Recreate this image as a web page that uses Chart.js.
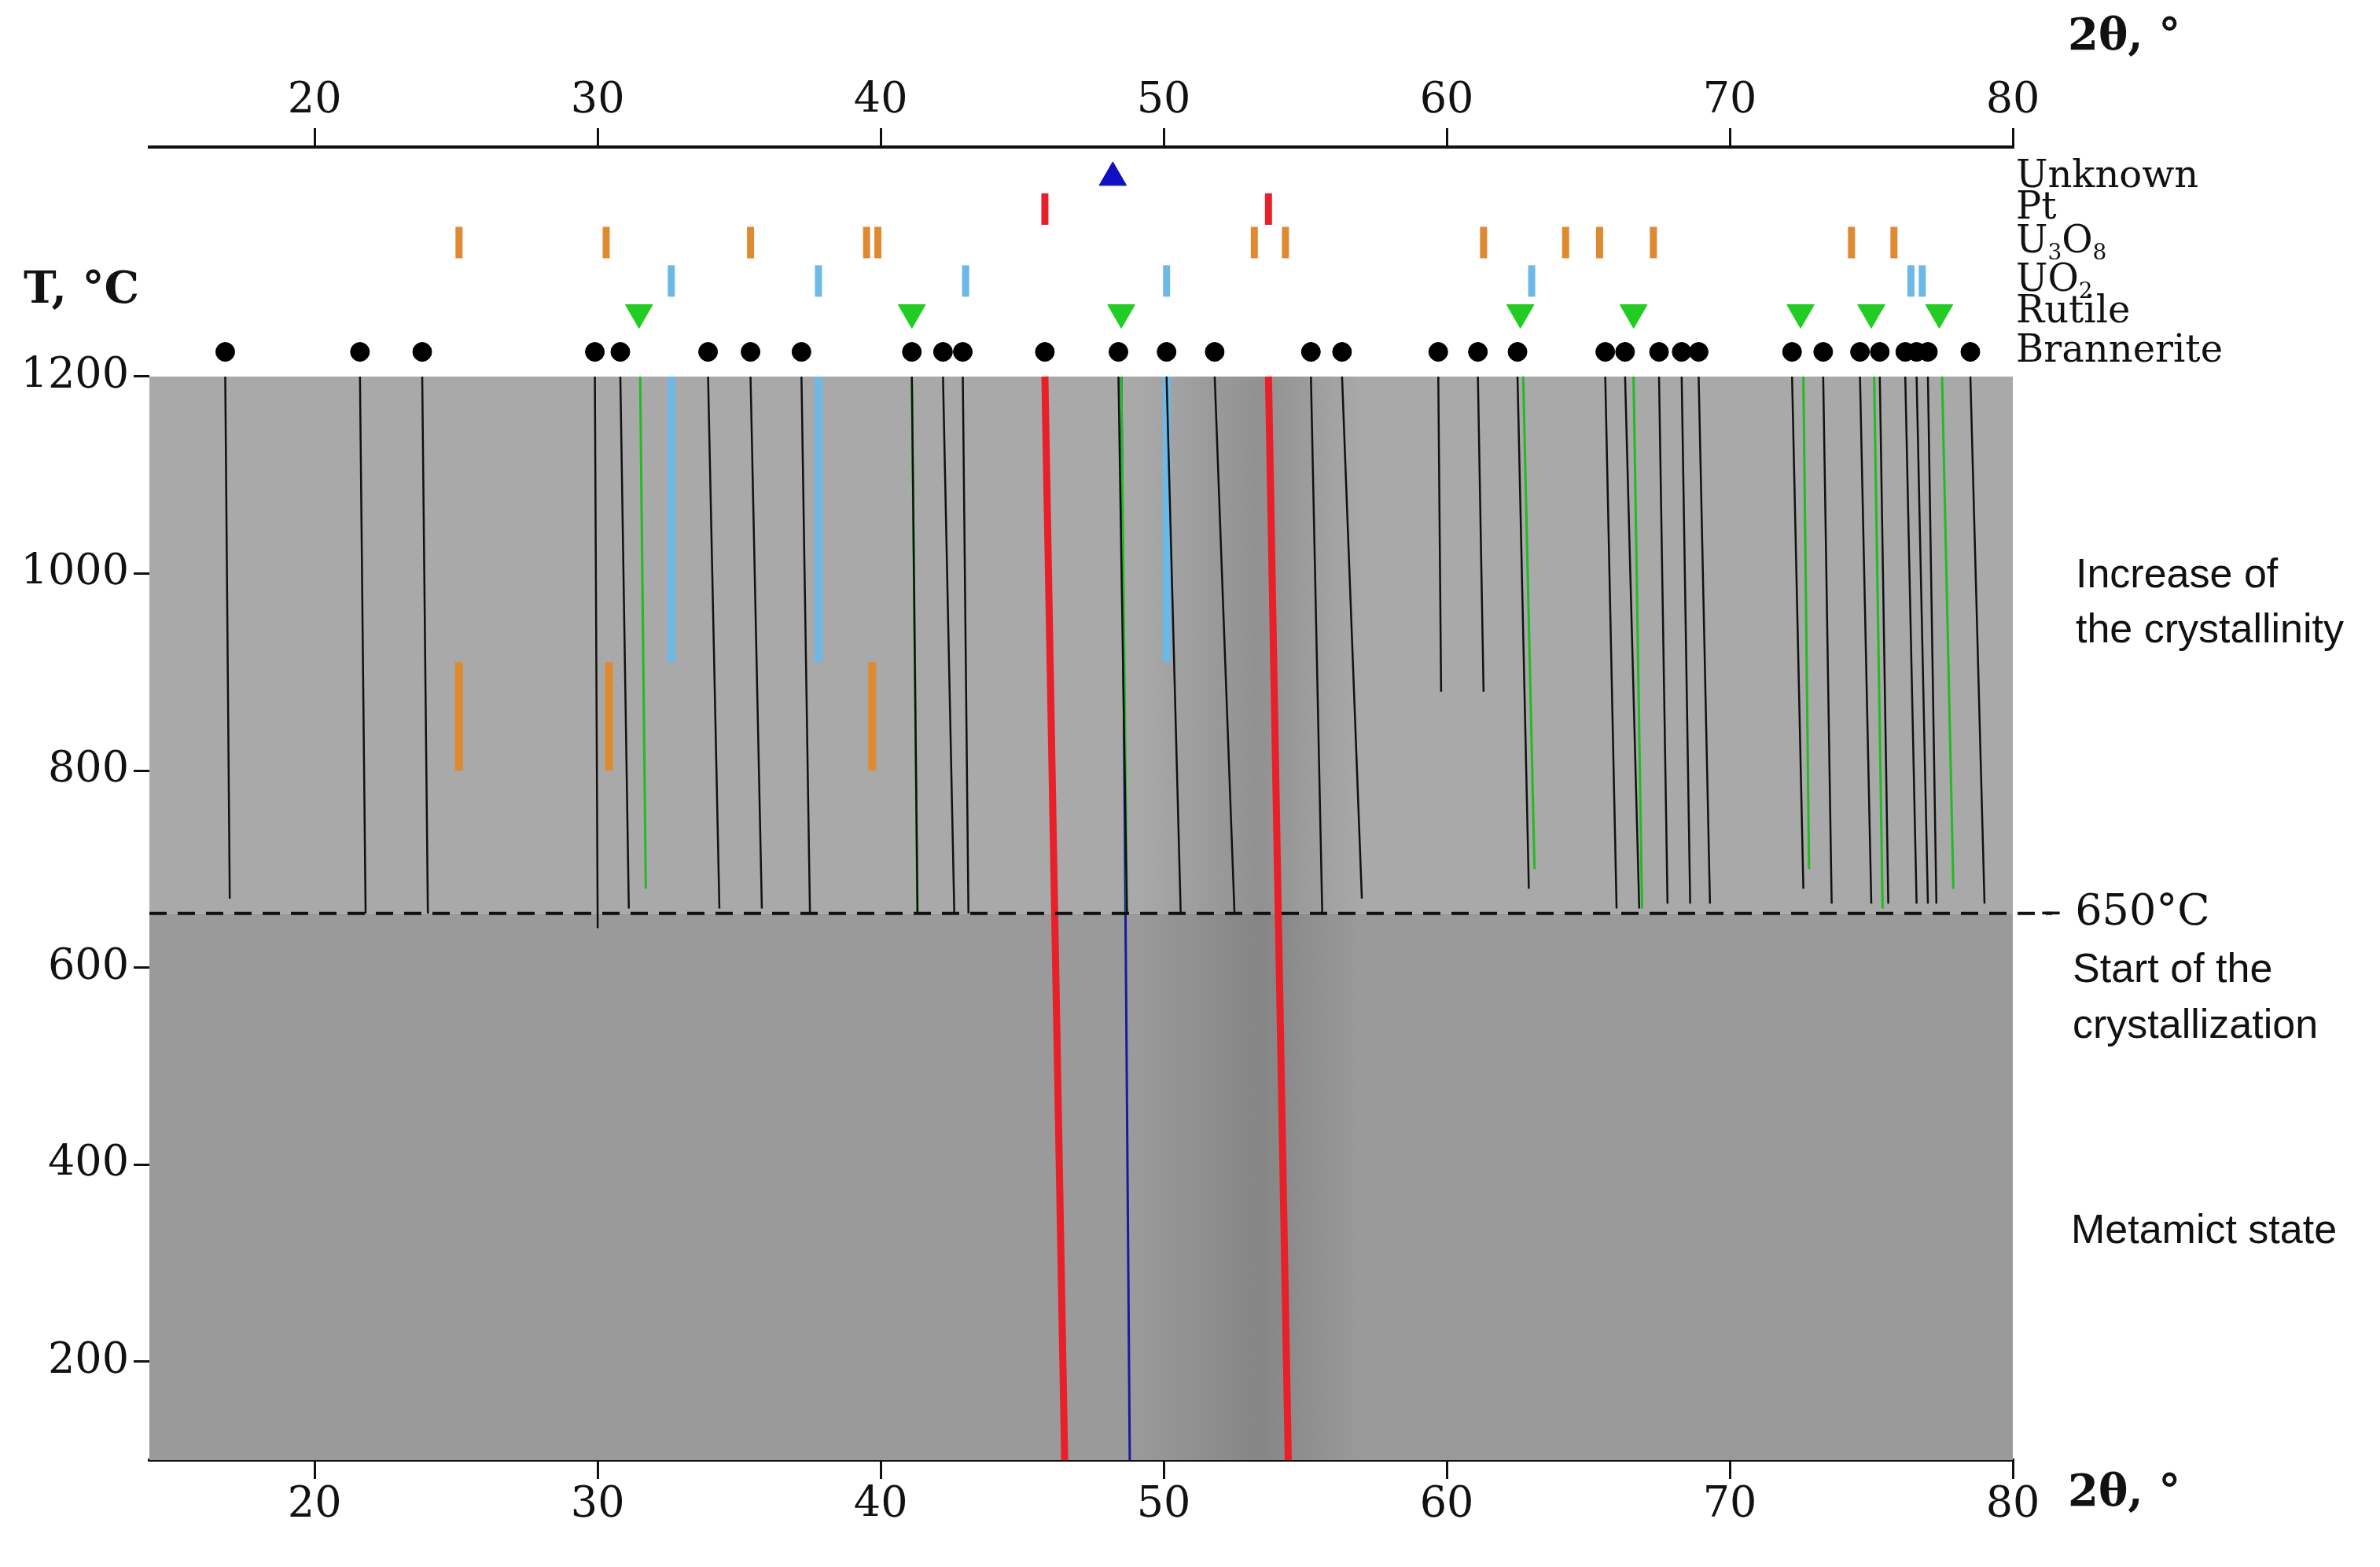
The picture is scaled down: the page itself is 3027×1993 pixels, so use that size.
<!DOCTYPE html>
<html><head><meta charset="utf-8">
<script src="https://cdn.jsdelivr.net/npm/chart.js@4"></script>
<style>html,body{margin:0;padding:0;background:#fff}#c{display:block}</style>
</head><body>
<canvas id="c" width="3027" height="1993"></canvas>
<script>
const xTicks=[20,30,40,50,60,70,80];
const yTicks=[200,400,600,800,1000,1200];
const brannerite=[16.84,21.6,23.8,29.9,30.8,33.9,35.4,37.2,41.1,42.2,42.9,45.8,48.4,50.1,51.8,55.2,56.3,59.7,61.1,62.5,65.6,66.3,67.5,68.3,68.9,72.2,73.3,74.6,75.3,76.2,76.6,77.0,78.5];
const rutile=[31.46,41.1,48.5,62.6,66.6,72.5,75.0,77.4];
const uo2=[32.6,37.8,43.0,50.1,63.0,76.4,76.8];
const u3o8=[25.1,30.3,35.4,39.5,39.9,53.2,54.3,61.3,64.2,65.4,67.3,74.3,75.8];
const pt=[45.8,53.7];
const unknown=[48.2];
const rowY={Brannerite:1225,Rutile:1265,UO2:1297,U3O8:1336,Pt:1370,Unknown:1402};
const traceTop=[16.84,21.6,23.8,29.9,30.8,33.9,35.4,37.2,41.1,42.2,42.9,48.4,50.1,51.8,55.2,56.3,59.7,61.1,62.5,65.6,66.3,67.5,68.3,68.9,72.2,73.3,74.6,75.3,76.2,76.6,77.0,78.5];
const traceBot=[17.0,21.8,24.0,30.0,31.1,34.3,35.8,37.5,41.3,42.6,43.1,48.7,50.6,52.5,55.6,57.0,59.8,61.3,62.9,66.0,66.8,67.8,68.6,69.3,72.6,73.6,75.0,75.6,76.6,77.0,77.3,79.0];
const traceEnd=[670,655,655,640,660,660,660,655,655,655,655,655,655,655,655,670,880,880,680,660,660,665,665,665,680,665,665,665,665,665,665,665];
const greenTop=[31.5,41.1,48.5,62.7,66.6,72.6,75.1,77.5];
const greenBot=[31.7,41.3,48.7,63.1,66.9,72.8,75.4,77.9];
const greenEnd=[680,655,655,700,660,700,660,680];
const uo2Seg=[32.6,37.8,50.1];const uo2SegT=[1200,910];
const u3o8Seg=[25.1,30.4,39.7];const u3o8SegT=[910,800];
const redTop=[45.8,53.7],redBot=[46.5,54.4];
const blueTop=[48.5],blueBot=[48.8];
const Tcryst=655;

const ds=[];
function seg(x1,y1,x2,y2,color,w){ds.push({type:'line',data:[{x:x1,y:y1},{x:x2,y:y2}],borderColor:color,borderWidth:w,pointRadius:0,fill:false});}
traceTop.forEach((x,i)=>seg(x,1200,traceBot[i],traceEnd[i],'#111',2.5));
greenTop.forEach((x,i)=>seg(x,1200,greenBot[i],greenEnd[i],'#22bb22',3));
uo2Seg.forEach(x=>seg(x,uo2SegT[0],x,uo2SegT[1],'#6cb8e6',10));
u3o8Seg.forEach(x=>seg(x,u3o8SegT[0],x,u3o8SegT[1],'#e08a30',10));
redTop.forEach((x,i)=>seg(x,1200,redBot[i],100,'#e8202a',9));
blueTop.forEach((x,i)=>seg(x,1200,blueBot[i],100,'#1a1aa0',3));
function row(arr,y,style,color,r,rot,bw){ds.push({type:'scatter',data:arr.map(x=>({x,y})),pointStyle:style,pointRadius:r,rotation:rot,backgroundColor:color,borderColor:color,pointBorderWidth:bw});}
row(brannerite,rowY.Brannerite,'circle','#000',12,0,1);
row(rutile,rowY.Rutile,'triangle','#22cc22',20,180,1);
row(uo2,rowY.UO2,'line','#6cb8e6',20,90,9);
row(u3o8,rowY.U3O8,'line','#e08a30',20,90,9);
row(pt,rowY.Pt,'line','#e8202a',20,90,9);
row(unknown,rowY.Unknown,'triangle','#1010c0',20,0,1);

const serif='"DejaVu Serif", "Liberation Serif", serif';
const sans='"Liberation Sans", Arial, sans-serif';
const bg={id:'bg',beforeDatasetsDraw(ch){const c=ch.ctx,x=ch.scales.x,y=ch.scales.y;const l=x.left,r=x.right;
 const y12=y.getPixelForValue(1200),y65=y.getPixelForValue(Tcryst),y1=y.getPixelForValue(100);
 c.save();c.fillStyle='#a9a9a9';c.fillRect(l,y12,r-l,y65-y12);c.fillStyle='#9a9a9a';c.fillRect(l,y65,r-l,y1-y65);
 const g=c.createLinearGradient(x.getPixelForValue(49),0,x.getPixelForValue(57),0);
 g.addColorStop(0,'rgba(60,60,60,0)');g.addColorStop(0.55,'rgba(60,60,60,0.22)');g.addColorStop(1,'rgba(60,60,60,0)');
 c.fillStyle=g;c.fillRect(l,y12,r-l,y1-y12);c.restore();},
 afterDatasetsDraw(ch){const c=ch.ctx,x=ch.scales.x,y=ch.scales.y;const yd=y.getPixelForValue(Tcryst);
 c.save();c.strokeStyle='#111';c.lineWidth=4;c.setLineDash([22,14]);c.beginPath();c.moveTo(x.left,yd);c.lineTo(2610,yd);c.stroke();c.setLineDash([]);
 c.fillStyle='#111';c.textBaseline='middle';c.textAlign='left';
 c.font='48px '+serif;
 const lx=x.right+4;
 const lab=(t,v)=>{c.fillText(t,lx,y.getPixelForValue(v));};
 lab('Brannerite',rowY.Brannerite);lab('Rutile',rowY.Rutile);lab('Pt',rowY.Pt);lab('Unknown',rowY.Unknown);
 const sub=(a,b,cc,d,v)=>{let px=lx,py=y.getPixelForValue(v);c.font='48px '+serif;c.fillText(a,px,py);px+=c.measureText(a).width;c.font='28px '+serif;c.fillText(b,px,py+14);px+=c.measureText(b).width;c.font='48px '+serif;c.fillText(cc,px,py);px+=c.measureText(cc).width;if(d){c.font='28px '+serif;c.fillText(d,px,py+14);}};
 sub('U','3','O','8',rowY.U3O8);sub('U','','O','2',rowY.UO2);
 c.font='54px '+serif;c.fillText('– 650°C',2595,yd);
 c.font='52px '+sans;
 c.fillText('Increase of',2640,733);c.fillText('the crystallinity',2640,803);
 c.fillText('Start of the',2636,1235);c.fillText('crystallization',2636,1306);
 c.fillText('Metamict state',2634,1567);
 c.font='bold 56px '+serif;c.fillText('2θ, °',2630,48);c.fillText('2θ, °',2630,1900);c.fillText('T, °C',30,370);
 c.restore();}};

const tickFont={family:serif,size:54};
new Chart(document.getElementById('c'),{data:{datasets:ds},
options:{responsive:false,animation:false,maintainAspectRatio:false,
 layout:{padding:{left:0,right:467,top:0,bottom:0}},
 plugins:{legend:{display:false},tooltip:{enabled:false}},
 scales:{
  x:{type:'linear',position:'bottom',min:14.16,max:80,afterBuildTicks:s=>{s.ticks=xTicks.map(v=>({value:v}));},afterFit:s=>{s.height=136;},
   grid:{drawOnChartArea:false,color:'#111',lineWidth:3,tickLength:24},border:{color:'#111',width:4},ticks:{color:'#111',font:tickFont,padding:2,callback:v=>String(v)}},
  x2:{type:'linear',position:'top',min:14.16,max:80,afterBuildTicks:s=>{s.ticks=xTicks.map(v=>({value:v}));},afterFit:s=>{s.height=187;},
   grid:{drawOnChartArea:false,color:'#111',lineWidth:3,tickLength:24},border:{color:'#111',width:4},ticks:{color:'#111',font:tickFont,padding:2,callback:v=>String(v)}},
  y:{type:'linear',min:100,max:1433,afterBuildTicks:s=>{s.ticks=yTicks.map(v=>({value:v}));},afterFit:s=>{s.width=190;},
   grid:{drawOnChartArea:false,color:'#111',lineWidth:3,tickLength:20},border:{display:false},ticks:{color:'#111',font:tickFont,padding:6,callback:v=>String(v)}}
 }},plugins:[bg]});
</script></body></html>
